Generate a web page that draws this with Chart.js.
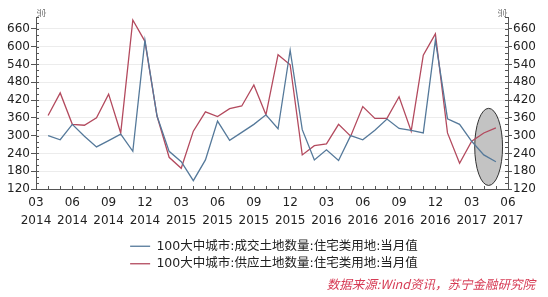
<!DOCTYPE html>
<html>
<head>
<meta charset="utf-8">
<script src="https://cdn.jsdelivr.net/npm/chart.js@4/dist/chart.umd.min.js"></script>
<style>
    html, body { margin: 0; padding: 0; background: #fff; }
    #wrap { position: relative; width: 548px; height: 297px; }
    #source {
        position: absolute; right: 13px; top: 274px;
        font: italic 12.5px 'Noto Sans CJK SC', sans-serif;
        color: #d63c55; white-space: nowrap;
    }
</style>
</head>
<body>
<div id="wrap">
    <canvas id="landChart" width="548" height="297"></canvas>
    <div id="source">数据来源:Wind资讯，苏宁金融研究院</div>
</div>
<script>
// months on the axis, 2014-03 .. 2017-06
const months = [
    '2014-03','2014-04','2014-05','2014-06','2014-07','2014-08','2014-09','2014-10','2014-11','2014-12',
    '2015-01','2015-02','2015-03','2015-04','2015-05','2015-06','2015-07','2015-08','2015-09','2015-10','2015-11','2015-12',
    '2016-01','2016-02','2016-03','2016-04','2016-05','2016-06','2016-07','2016-08','2016-09','2016-10','2016-11','2016-12',
    '2017-01','2017-02','2017-03','2017-04','2017-05','2017-06'
];
const xTickLabels = [
    ['03','2014'], ['06','2014'], ['09','2014'], ['12','2014'],
    ['03','2015'], ['06','2015'], ['09','2015'], ['12','2015'],
    ['03','2016'], ['06','2016'], ['09','2016'], ['12','2016'],
    ['03','2017'], ['06','2017']
];
const yTicks = [120, 180, 240, 300, 360, 420, 480, 540, 600, 660];

const seriesNames = [
    '100大中城市:成交土地数量:住宅类用地:当月值',
    '100大中城市:供应土地数量:住宅类用地:当月值'
];
// 成交 (deals)
const dealValues = [
    null, 300, 286, 338, 298, 262, 283, 305, 247, 622,
    366, 247, 212, 148, 218, 349, 284, 311, 338, 370, 323, 588,
    320, 218, 252, 216, 300, 286, 318, 356, 324, 318, 309, 622,
    357, 338, 281, 235, 212, null
];
// 供应 (supply)
const supplyValues = [
    null, 368, 444, 338, 335, 360, 440, 309, 690, 618,
    366, 227, 190, 315, 380, 364, 391, 400, 471, 370, 573, 539,
    235, 266, 272, 338, 298, 398, 358, 358, 431, 315, 571, 643,
    309, 207, 281, 309, 326, null
];

const axisColor = '#555';
const font = "'DejaVu Sans', 'Noto Sans CJK SC', sans-serif";

// grey ellipse marking the latest months + small minor ticks + unit labels
const extrasPlugin = {
    id: 'extras',
    beforeDatasetsDraw(chart) {
        const xs = chart.scales.x, ys = chart.scales.y, ctx = chart.ctx;
        const x0 = xs.getPixelForValue(37), x1 = xs.getPixelForValue(38);
        const cx = x0 + 0.4 * (x1 - x0);
        const cy = ys.getPixelForValue(262);
        const rx = 1.15 * (x1 - x0);
        const ry = Math.abs(ys.getPixelForValue(392) - cy);
        ctx.save();
        ctx.beginPath();
        ctx.ellipse(cx, cy, rx, ry, 0, 0, Math.PI * 2);
        ctx.fillStyle = '#c3c3c3';
        ctx.fill();
        ctx.lineWidth = 1;
        ctx.strokeStyle = '#333';
        ctx.stroke();
        ctx.restore();
    },
    afterDraw(chart) {
        const xs = chart.scales.x, ys = chart.scales.y, ctx = chart.ctx;
        const area = chart.chartArea;
        ctx.save();
        ctx.strokeStyle = axisColor;
        ctx.lineWidth = 1;
        ctx.beginPath();
        for (let i = 0; i < months.length; i++) {
            const x = Math.round(xs.getPixelForTick(i)) + 0.5;
            ctx.moveTo(x, area.bottom);
            ctx.lineTo(x, area.bottom - 3);
        }
        for (let v = 120; v <= 700; v += 20) {
            const y = Math.round(ys.getPixelForValue(v)) + 0.5;
            ctx.moveTo(area.left, y);
            ctx.lineTo(area.left + 3, y);
            ctx.moveTo(area.right, y);
            ctx.lineTo(area.right - 3, y);
        }
        ctx.stroke();

        ctx.fillStyle = '#666';
        ctx.font = "9px 'Noto Sans CJK SC', sans-serif";
        ctx.textAlign = 'center';
        ctx.textBaseline = 'middle';
        [[area.left + 5, area.top - 4], [area.right - 6, area.top - 4]].forEach(p => {
            ctx.save();
            ctx.translate(p[0], p[1]);
            ctx.rotate(Math.PI / 2);
            ctx.fillText('宗', 0, 0);
            ctx.restore();
        });
        ctx.restore();
    }
};

function yAxis(position, width, tickLen) {
    return {
        position: position,
        min: 120,
        max: 700,
        afterBuildTicks: scale => { scale.ticks = yTicks.map(v => ({ value: v })); },
        afterFit: scale => { scale.width = width; },
        grid: {
            drawOnChartArea: position === 'left',
            color: '#ececec',
            tickColor: axisColor,
            tickLength: tickLen
        },
        border: { color: axisColor },
        ticks: {
            padding: 1,
            color: '#222',
            font: { family: font, size: 12 }
        }
    };
}

const ctx = document.getElementById('landChart').getContext('2d');
new Chart(ctx, {
    type: 'line',
    data: {
        labels: months,
        datasets: [
            { label: seriesNames[0], data: dealValues, borderColor: '#55799a', backgroundColor: '#55799a',
              borderWidth: 1.3, pointRadius: 0, pointStyle: 'line', tension: 0 },
            { label: seriesNames[1], data: supplyValues, borderColor: '#b34a5e', backgroundColor: '#b34a5e',
              borderWidth: 1.3, pointRadius: 0, pointStyle: 'line', tension: 0 }
        ]
    },
    options: {
        responsive: false,
        animation: false,
        layout: { padding: { top: 17, bottom: 17, left: 0, right: 0 } },
        scales: {
            x: {
                offset: false,
                grid: { drawOnChartArea: false, drawTicks: false },
                border: { color: axisColor },
                ticks: {
                    autoSkip: false,
                    maxRotation: 0,
                    padding: 5,
                    color: '#222',
                    font: { family: font, size: 12, lineHeight: 1.5 },
                    callback: (val, i) => (i % 3 === 0 ? xTickLabels[i / 3] : '')
                }
            },
            y: yAxis('left', 36, 5),
            y2: yAxis('right', 40, 4)
        },
        plugins: {
            legend: {
                position: 'bottom',
                labels: {
                    usePointStyle: true,
                    pointStyleWidth: 20,
                    padding: 5,
                    color: '#222',
                    font: { family: font, size: 12.5 }
                }
            },
            tooltip: { enabled: false }
        }
    },
    plugins: [extrasPlugin]
});
</script>
</body>
</html>
